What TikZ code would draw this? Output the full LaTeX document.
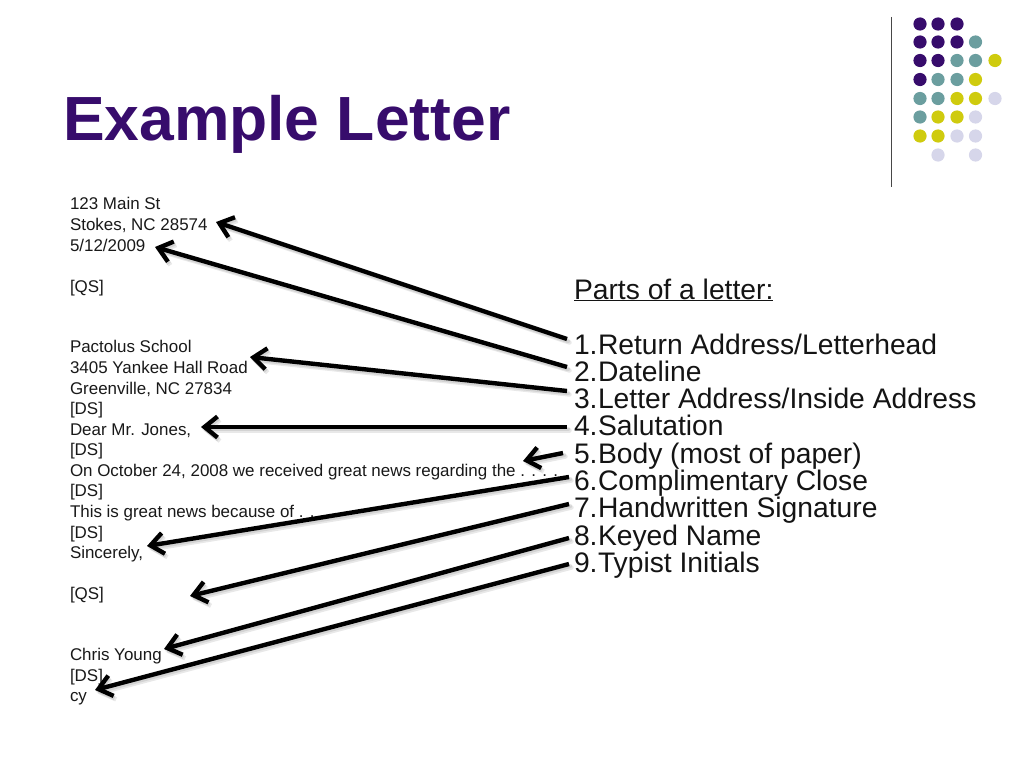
\documentclass[tikz,border=0pt]{standalone}
\usepackage{fontspec}
\setmainfont{Liberation Sans}
\usetikzlibrary{arrows.meta}
\definecolor{tpurple}{HTML}{370C6C}
\definecolor{tteal}{HTML}{6B9E9F}
\definecolor{tyellow}{HTML}{CFCB0E}
\definecolor{tlav}{HTML}{D6D6EA}
\tikzset{
 letterline/.style={anchor=base west,inner sep=0pt,outer sep=0pt,font=\fontsize{16.95}{17}\selectfont,text=black!90},
 partline/.style={anchor=base west,inner sep=0pt,outer sep=0pt,font=\fontsize{28.25}{29}\selectfont,text=black!92},
 titletext/.style={anchor=base west,inner sep=0pt,outer sep=0pt,font=\fontsize{62.4}{62.4}\selectfont\bfseries,text=tpurple},
 pointer/.style={line width=4.4pt,black,-{Straight Barb[length=13pt,width=21pt,line width=4.4pt]}},
 pointershadow/.style={line width=4.4pt,black,opacity=.09,line cap=round,-{Straight Barb[length=13pt,width=21pt,line width=4.4pt]}},
 dotP/.style={fill=tpurple},dotT/.style={fill=tteal},dotY/.style={fill=tyellow},dotL/.style={fill=tlav}
}
\newcommand{\ptr}[2]{%
 \draw[pointershadow,transform canvas={xshift=1pt,yshift=-2pt}] (#1) -- (#2);
 \draw[pointershadow,transform canvas={xshift=2.5pt,yshift=-3.5pt}] (#1) -- (#2);
 \draw[pointer] (#1) -- (#2);}
\begin{document}
\begin{tikzpicture}[x=1pt,y=-1pt]
\useasboundingbox (0,0) rectangle (1024,768);
\fill[white] (0,0) rectangle (1024,768);
\node[titletext] (title) at (63,140.5) {Example Letter};
\draw[line width=1.8pt,black!72] (891.5,17) -- (891.5,187);
\foreach \cx/\cy/\cs in {
 920/24/P,938/24/P,957/24/P,
 920/42/P,938/42/P,957/42/P,975.5/42/T,
 920/60.5/P,938/60.5/P,957/60.5/T,975.5/60.5/T,995/60.5/Y,
 920/79.5/P,938/79.5/T,957/79.5/T,975.5/79.5/Y,
 920/98.5/T,938/98.5/T,957/98.5/Y,975.5/98.5/Y,995/98.5/L,
 920/117/T,938/117/Y,957/117/Y,975.5/117/L,
 920/136/Y,938/136/Y,957/136/L,975.5/136/L,
 938/155/L,975.5/155/L}
 {\fill[dot\cs] (\cx,\cy) circle (6.6);}
\node[letterline] (l1) at (70,209) {123 Main St};
\node[letterline] (l2) at (70,230) {Stokes, NC 28574};
\node[letterline] (l3) at (70,251) {5/12/2009};
\node[letterline] (l4) at (70,292) {[QS]};
\node[letterline] (l5) at (70,352) {Pactolus School};
\node[letterline] (l6) at (70,373) {3405 Yankee Hall Road};
\node[letterline] (l7) at (70,394) {Greenville, NC 27834};
\node[letterline] (l8) at (70,414) {[DS]};
\node[letterline] (l9) at (70,435) {Dear Mr. Jones,};
\node[letterline] (l10) at (70,455) {[DS]};
\node[letterline] (l11) at (70,476) {On October 24, 2008 we received great news regarding the . . . .};
\node[letterline] (l12) at (70,496) {[DS]};
\node[letterline] (l13) at (70,517) {This is great news because of . . .};
\node[letterline] (l14) at (70,538) {[DS]};
\node[letterline] (l15) at (70,558) {Sincerely,};
\node[letterline] (l16) at (70,599) {[QS]};
\node[letterline] (l17) at (70,660) {Chris Young};
\node[letterline] (l18) at (70,681) {[DS]};
\node[letterline] (l19) at (70,701) {cy};
\node[partline] (head) at (574,299) {\underline{Parts of a letter:}};
\foreach \n/\t [count=\i from 0] in {1/Return Address\slash Letterhead,2/Dateline,3/Letter Address\slash Inside Address,4/Salutation,5/Body (most of paper),6/Complimentary Close,7/Handwritten Signature,8/Keyed Name,9/Typist Initials}{
 \node[partline] (n\n) at (574,{354+27.3*\i}) {\n.};
 \node[partline] (p\n) at (598,{354+27.3*\i}) {\t};
}
\coordinate (a1) at (567,339); \coordinate (b1) at (216,222);
\coordinate (a2) at (567,367); \coordinate (b2) at (155,247);
\coordinate (a3) at (567,391); \coordinate (b3) at (250,357);
\coordinate (a4) at (567,427); \coordinate (b4) at (201,427);
\coordinate (a5) at (563,453); \coordinate (b5) at (523,461);
\coordinate (a6) at (569,477); \coordinate (b6) at (147,546);
\coordinate (a7) at (569,504); \coordinate (b7) at (190,596);
\coordinate (a8) at (569,538); \coordinate (b8) at (164,649);
\coordinate (a9) at (569,564); \coordinate (b9) at (95,690);
\foreach \k in {1,...,9}{\ptr{a\k}{b\k}}
\end{tikzpicture}
\end{document}
